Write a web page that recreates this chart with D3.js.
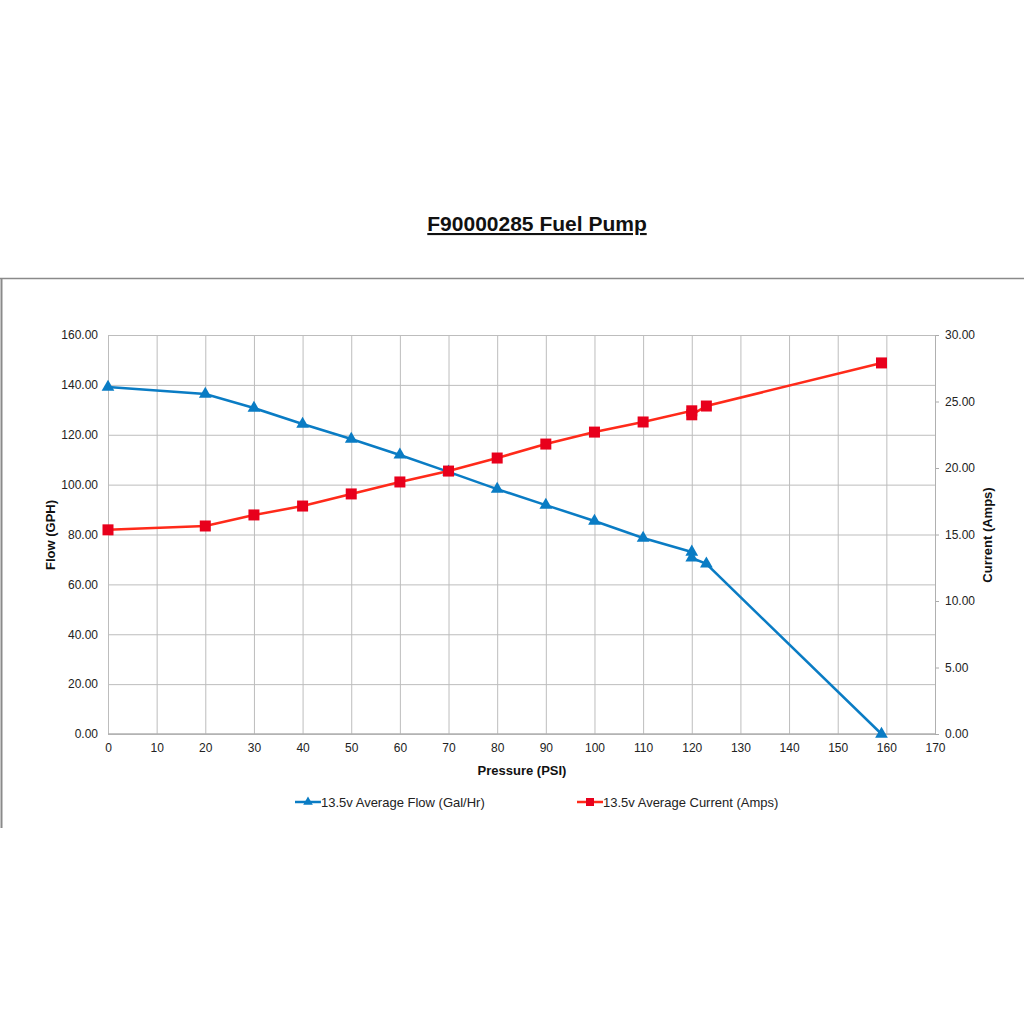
<!DOCTYPE html>
<html>
<head>
<meta charset="utf-8">
<script src="https://cdn.jsdelivr.net/npm/d3@7"></script>
<style>
  body { margin: 0; background: #fff; }
  svg { font-family: "Liberation Sans", Arial, sans-serif; }
</style>
</head>
<body>
<svg id="chart" width="1024" height="1024"></svg>
<script>
// pressure (PSI) readings
let pressure = [0, 20, 30, 40, 50, 60, 70, 80, 90, 100, 110, 120, 120, 123, 159];
// 13.5v average flow (Gal/Hr)
let flow = [139.1, 136.3, 130.7, 124.3, 118.3, 111.9, 105.1, 98.2, 91.8, 85.4, 78.6, 73.0, 70.6, 68.2, 0];
// 13.5v average current (Amps)
let current = [15.35, 15.64, 16.47, 17.14, 18.05, 18.95, 19.77, 20.75, 21.8, 22.7, 23.46, 24.3, 24.0, 24.66, 27.9];

let xTicks = d3.range(0, 171, 10);
let flowTicks = d3.range(0, 161, 20);
let currentTicks = d3.range(0, 31, 5);

let svg = d3.select('#chart');
let margin = { left: 108, right: 89, top: 335, bottom: 290 };
let width = 1024 - margin.left - margin.right;
let height = 1024 - margin.top - margin.bottom;

let blue = '#0a7cc4';
let red = '#ff2a1a';
let redMarker = '#e8001c';

// outer frame (top + left edge visible)
svg.append('line').attr('x1', 0).attr('x2', 1024).attr('y1', 278.5).attr('y2', 278.5)
  .attr('stroke', '#8a8a8a').attr('stroke-width', 1.5);
svg.append('line').attr('x1', 1.5).attr('x2', 1.5).attr('y1', 278).attr('y2', 828)
  .attr('stroke', '#8a8a8a').attr('stroke-width', 2);

// title
svg.append('text')
  .attr('x', 537).attr('y', 231)
  .attr('text-anchor', 'middle')
  .attr('font-size', 21).attr('font-weight', 'bold')
  .attr('text-decoration', 'underline')
  .attr('fill', '#111')
  .text('F90000285 Fuel Pump');

let x = d3.scaleLinear().domain([0, 170]).range([0, width]);
let yL = d3.scaleLinear().domain([0, 160]).range([height, 0]);
let yR = d3.scaleLinear().domain([0, 30]).range([height, 0]);

let chart = svg.append('g')
  .attr('transform', 'translate(' + margin.left + ',' + margin.top + ')');

// grid
chart.append('g').selectAll('line.v').data(xTicks).enter().append('line')
  .attr('x1', d => x(d) + 0.5).attr('x2', d => x(d) + 0.5)
  .attr('y1', 0).attr('y2', height)
  .attr('stroke', '#bdbdbd').attr('stroke-width', 1);
chart.append('g').selectAll('line.h').data(flowTicks).enter().append('line')
  .attr('x1', 0).attr('x2', width)
  .attr('y1', d => yL(d) + 0.5).attr('y2', d => yL(d) + 0.5)
  .attr('stroke', '#bdbdbd').attr('stroke-width', 1);
chart.append('line').attr('x1', 0).attr('x2', width).attr('y1', height).attr('y2', height)
  .attr('stroke', '#b0b0b0').attr('stroke-width', 1.5);

// axes
let xAxis = chart.append('g')
  .attr('transform', 'translate(0,' + height + ')')
  .call(d3.axisBottom(x).tickValues(xTicks).tickSize(0).tickPadding(9));
let leftAxis = chart.append('g')
  .call(d3.axisLeft(yL).tickValues(flowTicks).tickSize(0).tickPadding(10).tickFormat(d3.format('.2f')));
let rightAxis = chart.append('g')
  .attr('transform', 'translate(' + width + ',0)')
  .call(d3.axisRight(yR).tickValues(currentTicks).tickSize(4).tickPadding(6).tickFormat(d3.format('.2f')));

[xAxis, leftAxis, rightAxis].forEach(function (a) {
  a.select('.domain').remove();
  a.selectAll('text').attr('font-size', 12).attr('fill', '#222')
    .attr('font-family', '"Liberation Sans", Arial, sans-serif');
  a.selectAll('line').attr('stroke', '#aaa');
});
rightAxis.append('line').attr('x1', 0.5).attr('x2', 0.5).attr('y1', 0).attr('y2', height)
  .attr('stroke', '#b0b0b0');

// axis titles
svg.append('text')
  .attr('x', 522).attr('y', 775).attr('text-anchor', 'middle')
  .attr('font-size', 13).attr('font-weight', 'bold').attr('fill', '#111')
  .text('Pressure (PSI)');
svg.append('text')
  .attr('transform', 'translate(55,535) rotate(-90)').attr('text-anchor', 'middle')
  .attr('font-size', 13).attr('font-weight', 'bold').attr('fill', '#111')
  .text('Flow (GPH)');
svg.append('text')
  .attr('transform', 'translate(992,535) rotate(-90)').attr('text-anchor', 'middle')
  .attr('font-size', 13).attr('font-weight', 'bold').attr('fill', '#111')
  .text('Current (Amps)');

// series
let flowLine = d3.line().x((d, i) => x(pressure[i])).y(d => yL(d));
let currentLine = d3.line().x((d, i) => x(pressure[i])).y(d => yR(d));

chart.append('path').datum(flow).attr('d', flowLine)
  .attr('fill', 'none').attr('stroke', blue).attr('stroke-width', 2.5);
chart.append('path').datum(current).attr('d', currentLine)
  .attr('fill', 'none').attr('stroke', red).attr('stroke-width', 2.5);

let tri = d3.symbol().type(d3.symbolTriangle).size(70);
chart.selectAll('path.tri').data(flow).enter().append('path')
  .attr('d', tri)
  .attr('transform', (d, i) => 'translate(' + x(pressure[i]) + ',' + yL(d) + ')')
  .attr('fill', blue);
chart.selectAll('rect.sq').data(current).enter().append('rect')
  .attr('x', (d, i) => x(pressure[i]) - 5.5).attr('y', d => yR(d) - 5.5)
  .attr('width', 11).attr('height', 11)
  .attr('fill', redMarker);

// legend
let legend = svg.append('g');
let items = [
  { label: '13.5v Average Flow (Gal/Hr)', color: blue, x: 295, marker: 'tri' },
  { label: '13.5v Average Current (Amps)', color: red, x: 577, marker: 'sq' }
];
items.forEach(function (it) {
  legend.append('line').attr('x1', it.x).attr('x2', it.x + 26).attr('y1', 802).attr('y2', 802)
    .attr('stroke', it.color).attr('stroke-width', 2.5);
  if (it.marker === 'tri') {
    legend.append('path').attr('d', d3.symbol().type(d3.symbolTriangle).size(40))
      .attr('transform', 'translate(' + (it.x + 13) + ',802)').attr('fill', it.color);
  } else {
    legend.append('rect').attr('x', it.x + 9).attr('y', 798).attr('width', 8).attr('height', 8)
      .attr('fill', redMarker);
  }
  legend.append('text').attr('x', it.x + 26).attr('y', 807)
    .attr('font-size', 13).attr('fill', '#222').text(it.label);
});
</script>
</body>
</html>
